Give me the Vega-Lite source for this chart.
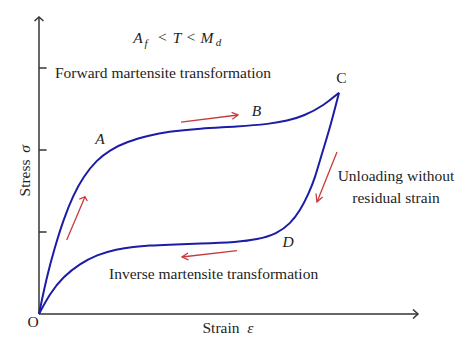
{
  "$schema": "https://vega.github.io/schema/vega-lite/v6.json",
  "width": 474,
  "height": 354,
  "autosize": {"type": "fit", "contains": "padding"},
  "padding": 0,
  "background": "white",
  "config": {"view": {"stroke": null}},
  "datasets": {
    "axes": [
      {"seg": "xs", "i": 0, "x": 0, "y": 0},
      {"seg": "xs", "i": 1, "x": 9.974, "y": 0},
      {"seg": "xh", "i": 0, "x": 9.842, "y": 0.055},
      {"seg": "xh", "i": 1, "x": 9.974, "y": 0},
      {"seg": "xh", "i": 2, "x": 9.842, "y": -0.055},
      {"seg": "ys", "i": 0, "x": 0, "y": 0},
      {"seg": "ys", "i": 1, "x": 0, "y": 3.622},
      {"seg": "yh", "i": 0, "x": -0.118, "y": 3.573},
      {"seg": "yh", "i": 1, "x": 0, "y": 3.622},
      {"seg": "yh", "i": 2, "x": 0.118, "y": 3.573}
    ],
    "ticks": [
      {"x": 0, "x2": 0.2, "y": 1},
      {"x": 0, "x2": 0.2, "y": 2},
      {"x": 0, "x2": 0.2, "y": 3}
    ],
    "curves": [
      {"curve": "loading", "x": 0, "y": 0},
      {"curve": "loading", "x": 0.203, "y": 0.455},
      {"curve": "loading", "x": 0.421, "y": 0.821},
      {"curve": "loading", "x": 0.639, "y": 1.146},
      {"curve": "loading", "x": 0.903, "y": 1.451},
      {"curve": "loading", "x": 1.166, "y": 1.674},
      {"curve": "loading", "x": 1.518, "y": 1.878},
      {"curve": "loading", "x": 1.868, "y": 2.0},
      {"curve": "loading", "x": 2.308, "y": 2.101},
      {"curve": "loading", "x": 2.921, "y": 2.18},
      {"curve": "loading", "x": 3.368, "y": 2.222},
      {"curve": "loading", "x": 4.237, "y": 2.262},
      {"curve": "loading", "x": 5.211, "y": 2.285},
      {"curve": "loading", "x": 6.079, "y": 2.318},
      {"curve": "loading", "x": 6.526, "y": 2.355},
      {"curve": "loading", "x": 6.974, "y": 2.415},
      {"curve": "loading", "x": 7.5, "y": 2.545},
      {"curve": "loading", "x": 7.895, "y": 2.699},
      {"curve": "unloading", "x": 0, "y": 0},
      {"curve": "unloading", "x": 0.289, "y": 0.252},
      {"curve": "unloading", "x": 0.639, "y": 0.455},
      {"curve": "unloading", "x": 1.079, "y": 0.612},
      {"curve": "unloading", "x": 1.518, "y": 0.722},
      {"curve": "unloading", "x": 2.045, "y": 0.79},
      {"curve": "unloading", "x": 2.482, "y": 0.82},
      {"curve": "unloading", "x": 2.921, "y": 0.836},
      {"curve": "unloading", "x": 3.361, "y": 0.845},
      {"curve": "unloading", "x": 4.237, "y": 0.857},
      {"curve": "unloading", "x": 5.211, "y": 0.878},
      {"curve": "unloading", "x": 5.737, "y": 0.906},
      {"curve": "unloading", "x": 6.263, "y": 0.979},
      {"curve": "unloading", "x": 6.613, "y": 1.101},
      {"curve": "unloading", "x": 6.876, "y": 1.265},
      {"curve": "unloading", "x": 7.097, "y": 1.467},
      {"curve": "unloading", "x": 7.271, "y": 1.671},
      {"curve": "unloading", "x": 7.447, "y": 1.96},
      {"curve": "unloading", "x": 7.666, "y": 2.284},
      {"curve": "unloading", "x": 7.895, "y": 2.699}
    ],
    "arrows": [
      {"seg": "a1s", "i": 0, "x": 0.729, "y": 0.902},
      {"seg": "a1s", "i": 1, "x": 1.211, "y": 1.43},
      {"seg": "a1h", "i": 0, "x": 1.061, "y": 1.402},
      {"seg": "a1h", "i": 1, "x": 1.211, "y": 1.43},
      {"seg": "a1h", "i": 2, "x": 1.271, "y": 1.378},
      {"seg": "a2s", "i": 0, "x": 3.737, "y": 2.341},
      {"seg": "a2s", "i": 1, "x": 5.237, "y": 2.427},
      {"seg": "a2h", "i": 0, "x": 5.068, "y": 2.46},
      {"seg": "a2h", "i": 1, "x": 5.237, "y": 2.427},
      {"seg": "a2h", "i": 2, "x": 5.089, "y": 2.376},
      {"seg": "a3s", "i": 0, "x": 7.842, "y": 1.976},
      {"seg": "a3s", "i": 1, "x": 7.316, "y": 1.366},
      {"seg": "a3h", "i": 0, "x": 7.463, "y": 1.427},
      {"seg": "a3h", "i": 1, "x": 7.316, "y": 1.366},
      {"seg": "a3h", "i": 2, "x": 7.289, "y": 1.47},
      {"seg": "a4s", "i": 0, "x": 5.211, "y": 0.774},
      {"seg": "a4s", "i": 1, "x": 3.763, "y": 0.695},
      {"seg": "a4h", "i": 0, "x": 3.932, "y": 0.659},
      {"seg": "a4h", "i": 1, "x": 3.763, "y": 0.695},
      {"seg": "a4h", "i": 2, "x": 3.921, "y": 0.744}
    ],
    "labels": [
      {"kind": "left", "text": "Forward martensite transformation", "x": 0.421, "y": 2.939},
      {"kind": "left", "text": "Inverse martensite transformation", "x": 1.842, "y": 0.491},
      {"kind": "center", "text": "Unloading without", "x": 9.395, "y": 1.683},
      {"kind": "center", "text": "residual strain", "x": 9.395, "y": 1.415},
      {"kind": "center", "text": "Strain", "x": 4.79, "y": -0.171},
      {"kind": "center", "text": "O", "x": -0.158, "y": -0.098},
      {"kind": "center", "text": "C", "x": 7.961, "y": 2.874},
      {"kind": "point", "text": "A", "x": 1.605, "y": 2.132},
      {"kind": "point", "text": "B", "x": 5.724, "y": 2.472},
      {"kind": "point", "text": "D", "x": 6.553, "y": 0.878},
      {"kind": "point", "text": "ε", "x": 5.56, "y": -0.171},
      {"kind": "ytitle", "text": "Stress", "x": -0.368, "y": 1.659},
      {"kind": "ytitlesym", "text": "σ", "x": -0.368, "y": 2.012},
      {"kind": "fmain", "text": "A", "x": 2.605, "y": 3.366},
      {"kind": "fmain", "text": "T", "x": 3.632, "y": 3.366},
      {"kind": "fmain", "text": "M", "x": 4.421, "y": 3.366},
      {"kind": "fop", "text": "<", "x": 3.25, "y": 3.38},
      {"kind": "fop", "text": "<", "x": 4.0, "y": 3.38},
      {"kind": "fsub", "text": "f", "x": 2.816, "y": 3.293},
      {"kind": "fsub", "text": "d", "x": 4.724, "y": 3.299}
    ]
  },
  "encoding": {
    "x": {"field": "x", "type": "quantitative", "scale": {"domain": [-1.0263, 11.4474], "nice": false, "zero": false}, "axis": null},
    "y": {"field": "y", "type": "quantitative", "scale": {"domain": [-0.4878, 3.8293], "nice": false, "zero": false}, "axis": null}
  },
  "layer": [
    {
      "data": {"name": "axes"},
      "mark": {"type": "line", "color": "#353535", "strokeWidth": 1.5},
      "encoding": {"detail": {"field": "seg"}, "order": {"field": "i", "type": "quantitative"}}
    },
    {
      "data": {"name": "ticks"},
      "mark": {"type": "rule", "color": "#353535", "strokeWidth": 1.5},
      "encoding": {"x2": {"field": "x2"}}
    },
    {
      "data": {"name": "curves"},
      "mark": {"type": "line", "color": "#1c1ca6", "strokeWidth": 2, "interpolate": "basis"},
      "encoding": {"detail": {"field": "curve"}}
    },
    {
      "data": {"name": "arrows"},
      "mark": {"type": "line", "color": "#c8393b", "strokeWidth": 1.3},
      "encoding": {"detail": {"field": "seg"}, "order": {"field": "i", "type": "quantitative"}}
    },
    {
      "data": {"name": "labels"},
      "transform": [{"filter": "datum.kind === 'left'"}],
      "mark": {"type": "text", "align": "left", "baseline": "middle", "font": "Liberation Serif", "fontSize": 15.5, "color": "#1e1e1e"},
      "encoding": {"text": {"field": "text"}}
    },
    {
      "data": {"name": "labels"},
      "transform": [{"filter": "datum.kind === 'center'"}],
      "mark": {"type": "text", "align": "center", "baseline": "middle", "font": "Liberation Serif", "fontSize": 15.5, "color": "#1e1e1e"},
      "encoding": {"text": {"field": "text"}}
    },
    {
      "data": {"name": "labels"},
      "transform": [{"filter": "datum.kind === 'point'"}],
      "mark": {"type": "text", "align": "center", "baseline": "middle", "font": "Liberation Serif", "fontSize": 15.5, "fontStyle": "italic", "color": "#1e1e1e"},
      "encoding": {"text": {"field": "text"}}
    },
    {
      "data": {"name": "labels"},
      "transform": [{"filter": "datum.kind === 'ytitle'"}],
      "mark": {"type": "text", "align": "center", "baseline": "middle", "angle": 270, "font": "Liberation Serif", "fontSize": 15.5, "color": "#1e1e1e"},
      "encoding": {"text": {"field": "text"}}
    },
    {
      "data": {"name": "labels"},
      "transform": [{"filter": "datum.kind === 'ytitlesym'"}],
      "mark": {"type": "text", "align": "center", "baseline": "middle", "angle": 270, "font": "Liberation Serif", "fontSize": 15.5, "fontStyle": "italic", "color": "#1e1e1e"},
      "encoding": {"text": {"field": "text"}}
    },
    {
      "data": {"name": "labels"},
      "transform": [{"filter": "datum.kind === 'fmain'"}],
      "mark": {"type": "text", "align": "center", "baseline": "middle", "font": "Liberation Serif", "fontSize": 15.5, "fontStyle": "italic", "color": "#1e1e1e"},
      "encoding": {"text": {"field": "text"}}
    },
    {
      "data": {"name": "labels"},
      "transform": [{"filter": "datum.kind === 'fop'"}],
      "mark": {"type": "text", "align": "center", "baseline": "middle", "font": "Liberation Serif", "fontSize": 15.5, "color": "#1e1e1e"},
      "encoding": {"text": {"field": "text"}}
    },
    {
      "data": {"name": "labels"},
      "transform": [{"filter": "datum.kind === 'fsub'"}],
      "mark": {"type": "text", "align": "center", "baseline": "middle", "font": "Liberation Serif", "fontSize": 11, "fontStyle": "italic", "color": "#1e1e1e"},
      "encoding": {"text": {"field": "text"}}
    }
  ]
}
